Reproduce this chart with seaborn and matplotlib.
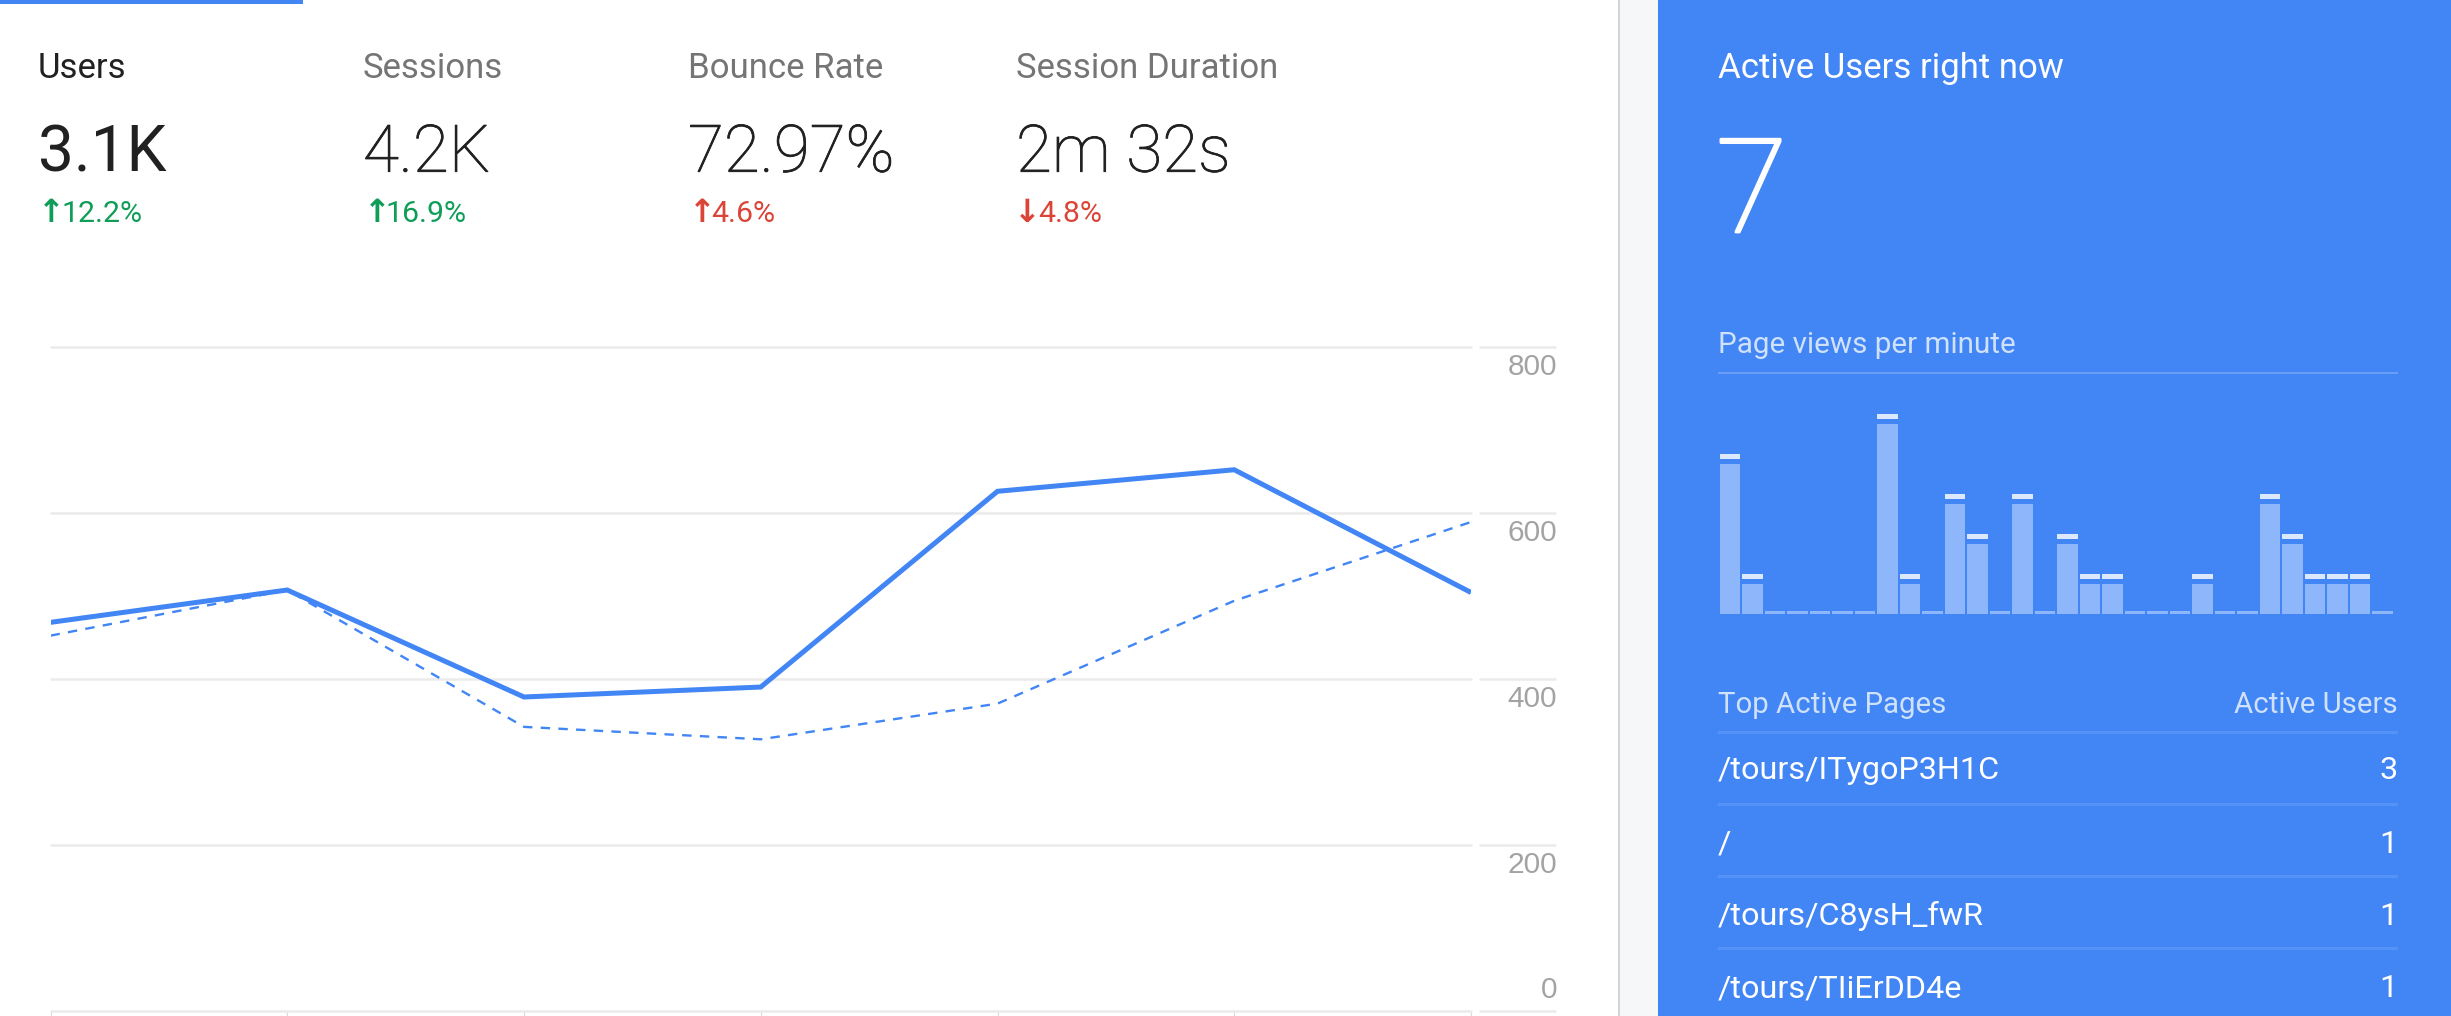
import matplotlib
matplotlib.use('Agg')
import matplotlib.pyplot as plt
import matplotlib.patheffects as pe
from matplotlib.patches import Rectangle
import seaborn as sns

sns.set_theme(style='white')
plt.rcParams['font.family'] = ['Roboto', 'DejaVu Sans']

W, H = 2451, 1016
BLUE = '#4285F4'

# metric cards
metric_names = ['Users', 'Sessions', 'Bounce Rate', 'Session Duration']
metric_values = ['3.1K', '4.2K', '72.97%', '2m 32s']
metric_deltas = ['12.2%', '16.9%', '4.6%', '4.8%']
metric_arrows = ['↑', '↑', '↑', '↓']
metric_colors = ['#0F9D58', '#0F9D58', '#DB4437', '#DB4437']

# main line chart
periods = [0, 1, 2, 3, 4, 5, 6]
current = [468, 507, 378, 390, 626, 652, 504]
previous = [452, 507, 342, 327, 370, 494, 589]
y_ticks = [0, 200, 400, 600, 800]

# realtime panel
per_minute = [4, 1, 0, 0, 0, 0, 0, 5, 1, 0, 3, 2, 0, 3, 0, 2, 1, 1, 0, 0, 0, 1, 0, 0, 3, 2, 1, 1, 1, 0]
page_names = ['/tours/ITygoP3H1C', '/', '/tours/C8ysH_fwR', '/tours/TIiErDD4e']
page_users = [3, 1, 1, 1]


def px_axes(fig, left, top, right, bottom):
    return fig.add_axes([left / W, 1 - bottom / H, (right - left) / W, (bottom - top) / H])


def px_text(fig, x, y, s, size, color, thicken=0, **kw):
    t = fig.text(x / W, 1 - y / H, s, fontsize=size, color=color, va='baseline', **kw)
    if thicken:
        t.set_path_effects([pe.withStroke(linewidth=thicken, foreground=color)])
    return t


def px_rect(fig, x0, y0, x1, y1, color):
    fig.patches.append(Rectangle((x0 / W, 1 - y1 / H), (x1 - x0) / W, (y1 - y0) / H,
                                 transform=fig.transFigure, facecolor=color, edgecolor='none',
                                 zorder=-1))


fig = plt.figure(figsize=(W / 100, H / 100), dpi=100, facecolor='white')

# page background
px_rect(fig, 1619, 0, 1658, H, '#F5F7F8')
px_rect(fig, 1618, 0, 1619.5, H, '#D2D4D6')
px_rect(fig, 1658, 0, W, H, BLUE)
px_rect(fig, 0, 0, 303, 4, BLUE)

# metric cards
name_x = [38, 363, 688, 1016]
value_x = [38, 363, 688, 1016]
arrow_x = [38, 364, 689, 1014]
delta_x = [62, 386, 711, 1038]
for i, name in enumerate(metric_names):
    px_text(fig, name_x[i], 77.7, name, 25, '#212121' if i == 0 else '#757575')
    if i == 0:
        px_text(fig, value_x[i], 171.7, metric_values[i], 46, '#212121')
    else:
        px_text(fig, value_x[i], 171.7, metric_values[i], 47.2, '#212121', thicken=0.6, fontweight='light')
    px_text(fig, arrow_x[i], 221.7, metric_arrows[i], 23, metric_colors[i],
            family='DejaVu Sans', fontweight='bold')
    px_text(fig, delta_x[i], 221.7, metric_deltas[i], 21.8, metric_colors[i])

# line chart
ax = px_axes(fig, 50.5, 347, 1471, 1010.5)
ax.patch.set_alpha(0)
sns.lineplot(x=periods, y=previous, ax=ax, color=BLUE, linewidth=1.7, linestyle=(0, (4, 3.5)),
             errorbar=None)
sns.lineplot(x=periods, y=current, ax=ax, color=BLUE, linewidth=3.6, errorbar=None,
             solid_capstyle='butt', solid_joinstyle='miter')
ax.set_xlim(periods[0], periods[-1])
ax.set_ylim(y_ticks[0], y_ticks[-1])
ax.set_xticks(periods)
ax.set_xticklabels([])
ax.set_yticks(y_ticks)
ax.set_yticklabels([])
ax.tick_params(axis='x', bottom=True, length=4.3, width=0.8, color='#DADADA')
ax.tick_params(axis='y', left=False)
ax.grid(axis='y', color='#EBEBEB', linewidth=1.8)
ax.set_axisbelow(True)
for gl in ax.get_ygridlines():
    gl.set_clip_on(False)
sns.despine(ax=ax, left=True, bottom=True)

# right stub of the gridlines with the tick labels
ax_r = px_axes(fig, 1480, 347, 1555, 1010.5)
ax_r.patch.set_alpha(0)
ax_r.set_xlim(0, 1)
ax_r.set_ylim(y_ticks[0], y_ticks[-1])
ax_r.set_xticks([])
ax_r.set_yticks(y_ticks)
ax_r.set_yticklabels([])
ax_r.tick_params(axis='y', left=False)
ax_r.grid(axis='y', color='#EBEBEB', linewidth=1.8)
for gl in ax_r.get_ygridlines():
    gl.set_clip_on(False)
sns.despine(ax=ax_r, left=True, bottom=True)
for v in y_ticks:
    ax_r.annotate(str(v), (1, v), xycoords=('axes fraction', 'data'),
                  xytext=(2, -20 if v > 0 else 20), textcoords='offset pixels',
                  ha='right', va='center', fontsize=21.5, color='#A3A3A3', family='Liberation Sans')

# realtime panel
left, right = 1718, 2397.5
px_text(fig, left, 77.7, 'Active Users right now', 25, 'white')
px_text(fig, 1716, 232, '7', 94, 'white', thicken=2, fontweight='light')
px_text(fig, left, 352.7, 'Page views per minute', 21.3, '#D0E1FC')
px_rect(fig, left, 371.5, right, 374, '#6A9EF6')

ax_b = px_axes(fig, 1718.75, 414, 2393.75, 614)
ax_b.patch.set_alpha(0)
minutes = list(range(len(per_minute)))
# solid part stops short of the value, a small cap marks the value itself
bar_heights = [v - 0.25 if v > 0 else 0.075 for v in per_minute]
sns.barplot(x=minutes, y=bar_heights, ax=ax_b, color='#8EB6FA', saturation=1, width=0.89, linewidth=0)
cap_x = [m for m, v in zip(minutes, per_minute) if v > 0]
cap_y = [v - 0.125 for v in per_minute if v > 0]
ax_b.bar(cap_x, 0.125, bottom=cap_y, width=0.89, color='#DCE8FD', linewidth=0)
ax_b.set_xlim(-0.5, len(per_minute) - 0.5)
ax_b.set_ylim(0, 5)
ax_b.axis('off')

px_text(fig, left, 712.7, 'Top Active Pages', 21.2, '#D0E1FC')
px_text(fig, right, 712.7, 'Active Users', 21.2, '#D0E1FC', ha='right')
px_rect(fig, left, 731, right, 733.5, '#5592F5')
row_base = [779, 852.7, 925, 997.3]
row_rule = [804.3, 876.3, 948.3]
for name, users, y in zip(page_names, page_users, row_base):
    px_text(fig, left, y, name, 23.3, 'white')
    px_text(fig, right, y, str(users), 23.3, 'white', ha='right')
for y in row_rule:
    px_rect(fig, left, y - 1.2, right, y + 1.2, '#5592F5')

fig.savefig('out.png', dpi=100)
